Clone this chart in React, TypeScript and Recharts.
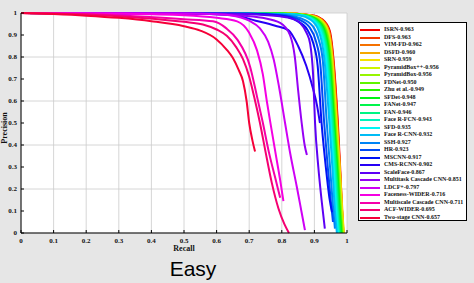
import React from 'react';
import { LineChart, Line, XAxis, YAxis, CartesianGrid, Legend } from 'recharts';

const METHODS = [
  'ISRN-0.963', 'DFS-0.963', 'VIM-FD-0.962', 'DSFD-0.960', 'SRN-0.959',
  'PyramidBox++-0.956', 'PyramidBox-0.956', 'FDNet-0.950', 'Zhu et al.-0.949',
  'SFDet-0.948', 'FANet-0.947', 'FAN-0.946', 'Face R-FCN-0.943', 'SFD-0.935',
  'Face R-CNN-0.932', 'SSH-0.927', 'HR-0.923', 'MSCNN-0.917', 'CMS-RCNN-0.902',
  'ScaleFace-0.867', 'Multitask Cascade CNN-0.851', 'LDCF+-0.797',
  'Faceness-WIDER-0.716', 'Multiscale Cascade CNN-0.711', 'ACF-WIDER-0.695',
  'Two-stage CNN-0.657',
];

const TICKS = [0, 0.1, 0.2, 0.3, 0.4, 0.5, 0.6, 0.7, 0.8, 0.9, 1];

// [recall, precision] pairs
const ISRN = [[0, 1], [0.8, 0.999], [0.892, 0.99], [0.925, 0.97], [0.947, 0.92], [0.958, 0.8], [0.972, 0.5], [0.979, 0.3], [0.985, 0.1], [0.989, 0]];
const DFS = [[0, 1], [0.8, 0.999], [0.89, 0.99], [0.923, 0.97], [0.945, 0.92], [0.957, 0.8], [0.971, 0.5], [0.978, 0.3], [0.984, 0.1], [0.988, 0]];
const VIMFD = [[0, 1], [0.8, 0.999], [0.888, 0.99], [0.921, 0.97], [0.944, 0.92], [0.956, 0.8], [0.97, 0.5], [0.978, 0.3], [0.985, 0.1], [0.989, 0]];
const DSFD = [[0, 1], [0.8, 0.999], [0.886, 0.99], [0.92, 0.97], [0.943, 0.92], [0.955, 0.8], [0.969, 0.5], [0.978, 0.3], [0.986, 0.1], [0.99, 0]];
const SRN = [[0, 1], [0.8, 0.999], [0.884, 0.99], [0.918, 0.97], [0.941, 0.92], [0.954, 0.8], [0.968, 0.5], [0.977, 0.3], [0.985, 0.1], [0.99, 0]];
const PYRAMIDBOX_PP = [[0, 1], [0.8, 0.998], [0.88, 0.99], [0.915, 0.97], [0.939, 0.92], [0.952, 0.8], [0.966, 0.5], [0.975, 0.3], [0.983, 0.1], [0.988, 0]];
const PYRAMIDBOX = [[0, 1], [0.8, 0.998], [0.878, 0.99], [0.913, 0.97], [0.937, 0.92], [0.951, 0.8], [0.965, 0.5], [0.974, 0.3], [0.982, 0.1], [0.987, 0]];
const FDNET = [[0, 1], [0.8, 0.998], [0.875, 0.99], [0.91, 0.97], [0.935, 0.92], [0.949, 0.8], [0.963, 0.5], [0.972, 0.3], [0.98, 0.1], [0.985, 0]];
const ZHU = [[0, 1], [0.8, 0.998], [0.872, 0.99], [0.907, 0.97], [0.932, 0.92], [0.947, 0.8], [0.961, 0.5], [0.97, 0.3], [0.978, 0.1], [0.983, 0]];
const SFDET = [[0, 1], [0.8, 0.997], [0.87, 0.99], [0.905, 0.97], [0.93, 0.92], [0.945, 0.8], [0.96, 0.5], [0.969, 0.3], [0.977, 0.1], [0.982, 0]];
const FANET = [[0, 1], [0.8, 0.997], [0.868, 0.99], [0.903, 0.97], [0.928, 0.92], [0.943, 0.8], [0.958, 0.5], [0.967, 0.3], [0.975, 0.1], [0.98, 0]];
const FAN = [[0, 1], [0.8, 0.997], [0.865, 0.99], [0.9, 0.97], [0.925, 0.92], [0.941, 0.8], [0.956, 0.5], [0.965, 0.3], [0.972, 0.1], [0.977, 0]];
const FACE_RFCN = [[0, 1], [0.8, 0.996], [0.862, 0.99], [0.897, 0.97], [0.922, 0.92], [0.938, 0.8], [0.953, 0.5], [0.962, 0.3], [0.97, 0.1], [0.975, 0]];
const SFD = [[0, 1], [0.8, 0.996], [0.858, 0.99], [0.893, 0.97], [0.918, 0.92], [0.935, 0.8], [0.95, 0.5], [0.959, 0.3], [0.967, 0.1], [0.972, 0]];
const FACE_RCNN = [[0, 1], [0.8, 0.995], [0.852, 0.99], [0.888, 0.97], [0.913, 0.92], [0.93, 0.8], [0.946, 0.5], [0.955, 0.3], [0.963, 0.1], [0.969, 0]];
const SSH = [[0, 1], [0.7, 0.998], [0.8, 0.992], [0.86, 0.975], [0.895, 0.94], [0.913, 0.88], [0.926, 0.78], [0.938, 0.5], [0.948, 0.3], [0.957, 0.12], [0.963, 0.02]];
const HR = [[0, 1], [0.7, 0.997], [0.8, 0.99], [0.85, 0.972], [0.885, 0.935], [0.905, 0.87], [0.918, 0.77], [0.93, 0.5], [0.941, 0.3], [0.95, 0.15], [0.957, 0.05]];
const MSCNN = [[0, 1], [0.7, 0.997], [0.8, 0.987], [0.845, 0.965], [0.878, 0.925], [0.897, 0.86], [0.91, 0.76], [0.922, 0.5], [0.935, 0.3], [0.946, 0.16], [0.954, 0.095]];
const CMS_RCNN = [[0, 1], [0.5, 0.998], [0.651, 0.99], [0.72, 0.965], [0.78, 0.942], [0.82, 0.922], [0.85, 0.85], [0.875, 0.76], [0.895, 0.66], [0.908, 0.58], [0.917, 0.5]];
const SCALEFACE = [[0, 1], [0.6, 0.998], [0.7, 0.995], [0.794, 0.985], [0.83, 0.975], [0.856, 0.955], [0.876, 0.91], [0.887, 0.86], [0.896, 0.72], [0.902, 0.5], [0.912, 0.3], [0.922, 0.15], [0.932, 0.02]];
const MULTITASK = [[0, 1], [0.5, 0.998], [0.66, 0.99], [0.74, 0.978], [0.795, 0.955], [0.825, 0.9], [0.84, 0.8], [0.85, 0.65], [0.861, 0.5], [0.87, 0.4], [0.877, 0.355]];
const LDCF = [[0, 1], [0.5, 0.998], [0.6, 0.994], [0.64, 0.99], [0.7, 0.965], [0.733, 0.93], [0.758, 0.87], [0.775, 0.79], [0.792, 0.66], [0.81, 0.5], [0.826, 0.36], [0.846, 0.21], [0.86, 0.1], [0.871, 0.013]];
const FACENESS = [[0, 1], [0.3, 0.997], [0.5, 0.99], [0.6, 0.978], [0.663, 0.962], [0.7, 0.91], [0.724, 0.83], [0.742, 0.72], [0.754, 0.6], [0.764, 0.51], [0.78, 0.37], [0.795, 0.24], [0.805, 0.145]];
const MULTISCALE = [[0, 1], [0.2, 0.995], [0.35, 0.985], [0.5, 0.972], [0.589, 0.962], [0.63, 0.93], [0.663, 0.88], [0.703, 0.755], [0.724, 0.62], [0.742, 0.5], [0.76, 0.37], [0.78, 0.25], [0.795, 0.16]];
const ACF = [[0, 1], [0.2, 0.993], [0.35, 0.98], [0.5, 0.96], [0.558, 0.948], [0.6, 0.925], [0.632, 0.895], [0.66, 0.845], [0.681, 0.79], [0.7, 0.71], [0.715, 0.62], [0.733, 0.5], [0.75, 0.37], [0.769, 0.23], [0.79, 0.11], [0.808, 0.04], [0.822, 0]];
const TWO_STAGE = [[0, 1], [0.1, 0.995], [0.2, 0.988], [0.3, 0.978], [0.4, 0.963], [0.5, 0.94], [0.55, 0.92], [0.6, 0.88], [0.63, 0.835], [0.65, 0.795], [0.668, 0.74], [0.681, 0.69], [0.692, 0.6], [0.7, 0.5], [0.71, 0.42], [0.718, 0.37]];

const CURVES = [
  ISRN, DFS, VIMFD, DSFD, SRN, PYRAMIDBOX_PP, PYRAMIDBOX, FDNET, ZHU, SFDET, FANET,
  FAN, FACE_RFCN, SFD, FACE_RCNN, SSH, HR, MSCNN, CMS_RCNN, SCALEFACE, MULTITASK,
  LDCF, FACENESS, MULTISCALE, ACF, TWO_STAGE,
];

// matlab hsv colormap, one colour per method
const colorOf = (i: number) => `hsl(${(i * 360) / 26}, 100%, 48%)`;

const serif = 'Liberation Serif, Times New Roman, serif';
const tickStyle = { fill: '#111', fontSize: 7, fontFamily: serif, fontWeight: 'bold' as const };

const PrecisionLabel = ({ viewBox }: any) => {
  const x = 7;
  const y = viewBox ? viewBox.y + viewBox.height / 2 + 5 : 128;
  return (
    <text x={x} y={y} transform={`rotate(-90, ${x}, ${y})`} textAnchor="middle"
      style={{ fontSize: 8, fontFamily: serif, fontWeight: 'bold', fill: '#111' }}>
      Precision
    </text>
  );
};

const renderLegend = () => (
  <div style={{
    width: 109, height: 199, background: '#fff', border: '1px solid #000',
    boxSizing: 'border-box', position: 'relative', overflow: 'hidden',
  }}>
    {METHODS.map((m, i) => (
      <div key={m} style={{
        position: 'absolute', left: 1, top: 3.25 + i * 7.5, height: 7.5,
        display: 'flex', alignItems: 'center', whiteSpace: 'nowrap',
      }}>
        <span style={{ display: 'inline-block', width: 20, height: 2, background: colorOf(i) }} />
        <span style={{
          marginLeft: 4, fontSize: 6, lineHeight: '7.5px', fontFamily: serif,
          fontWeight: 'bold', color: '#111',
        }}>{m}</span>
      </div>
    ))}
  </div>
);

export default function App() {
  return (
    <div style={{
      position: 'absolute', left: 0, top: 0, width: 474, height: 283,
      background: '#e6e6e6', overflow: 'hidden',
    }}>
      <LineChart width={474} height={283} margin={{ top: 13, right: 127, bottom: 35, left: 0 }}>
        <CartesianGrid stroke="#cccccc" strokeWidth={0.8} fill="#fff" />
        <XAxis dataKey="r" type="number" domain={[0, 1]} ticks={TICKS} height={15}
          stroke="#000" tickSize={-3} tickMargin={8} tick={tickStyle}
          tickFormatter={(v) => String(v)}
          label={{ value: 'Recall', position: 'insideBottom', offset: -3,
            style: { fontSize: 8, fontFamily: serif, fontWeight: 'bold', fill: '#111' } }} />
        <YAxis type="number" domain={[0, 1]} ticks={TICKS} width={21}
          stroke="#000" tickSize={-3} tickMargin={7} tick={tickStyle}
          tickFormatter={(v) => String(v)} label={<PrecisionLabel />} />
        <XAxis xAxisId="top" orientation="top" type="number" domain={[0, 1]} ticks={TICKS}
          height={0} stroke="#000" tickSize={-3} tick={false} />
        <YAxis yAxisId="right" orientation="right" type="number" domain={[0, 1]} ticks={TICKS}
          width={0} stroke="#000" tickSize={-3} tick={false} />
        {CURVES.map((c, i) => (
          <Line key={METHODS[i]} name={METHODS[i]} data={c.map(([r, p]) => ({ r, p }))}
            dataKey="p" type="monotoneX" stroke={colorOf(i)} strokeWidth={2}
            dot={false} isAnimationActive={false} />
        ))}
        <Legend layout="vertical" align="center" verticalAlign="middle"
          wrapperStyle={{ left: 358, top: 22, width: 109, height: 199 }}
          content={renderLegend} />
      </LineChart>
      <div style={{
        position: 'absolute', left: 0, width: 386, top: 258, textAlign: 'center',
        fontFamily: 'Liberation Sans, Arial, sans-serif', fontSize: 21, lineHeight: '21px',
        color: '#000',
      }}>Easy</div>
    </div>
  );
}
